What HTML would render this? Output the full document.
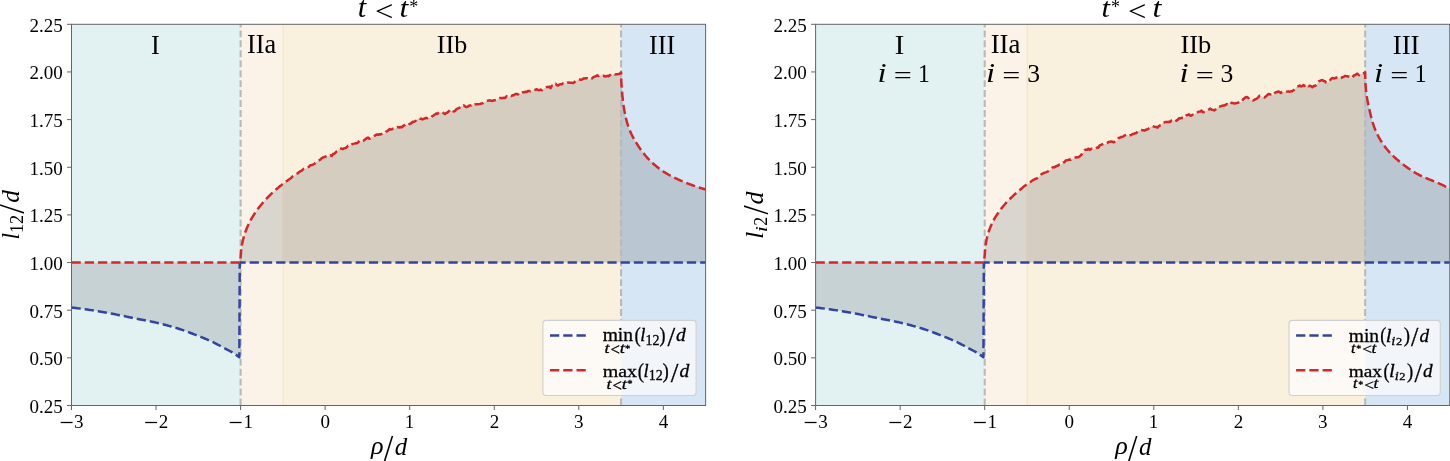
<!DOCTYPE html>
<html><head><meta charset="utf-8"><style>
html,body{margin:0;padding:0;background:#fff;overflow:hidden;}
svg{display:block;}
text{font-family:"Liberation Serif","DejaVu Serif",serif;fill:#000;}
</style></head><body>
<svg width="1450" height="461" viewBox="0 0 1450 461">
<rect x="71.50" y="24.30" width="169.10" height="381.20" fill="#e2f1f2"/>
<rect x="240.60" y="24.30" width="42.28" height="381.20" fill="#fbf3e7"/>
<rect x="282.88" y="24.30" width="338.20" height="381.20" fill="#f9f0dd"/>
<rect x="621.07" y="24.30" width="84.55" height="381.20" fill="#d6e6f4"/>
<defs><path id="fp1" d="M71.50 262.55 L239.75 262.55 L240.75 256.01 L240.89 253.65 L241.04 251.89 L241.18 250.44 L241.33 249.19 L241.47 248.06 L241.62 247.04 L241.77 246.10 L241.91 245.22 L242.06 244.39 L242.20 243.61 L242.35 242.87 L242.50 242.16 L242.64 241.48 L242.79 240.83 L242.93 240.21 L243.08 239.60 L243.22 239.01 L243.37 238.45 L243.52 237.90 L243.66 237.36 L243.81 236.84 L243.95 236.33 L244.10 235.84 L244.24 235.35 L244.39 234.88 L244.54 234.42 L244.68 233.96 L244.83 233.52 L246.09 230.00 L247.34 226.92 L248.60 224.16 L249.86 221.63 L251.12 219.29 L252.38 217.11 L253.64 215.06 L254.89 213.13 L256.15 211.29 L257.41 209.53 L258.67 207.85 L259.93 206.24 L261.19 204.68 L262.44 203.19 L263.70 201.74 L264.96 200.34 L266.22 198.98 L267.48 197.65 L268.74 196.37 L269.99 195.12 L271.25 193.90 L272.51 192.71 L273.77 191.55 L275.03 190.41 L276.29 189.29 L277.54 188.21 L278.80 187.13 L280.06 186.06 L281.32 185.17 L282.58 184.12 L283.84 183.23 L285.09 182.24 L286.35 181.27 L287.61 180.45 L288.87 179.53 L290.13 178.76 L291.39 177.68 L292.64 176.46 L293.90 175.96 L295.16 174.96 L296.42 173.90 L297.68 173.31 L298.94 172.28 L300.20 171.34 L301.45 170.80 L302.71 169.66 L303.97 168.72 L305.23 168.64 L306.49 168.01 L307.75 167.73 L309.00 166.62 L310.26 165.28 L311.52 165.13 L312.78 164.72 L314.04 163.99 L315.30 163.11 L316.55 161.99 L317.81 160.77 L319.07 160.28 L320.33 159.70 L321.59 158.29 L322.85 157.47 L324.10 157.07 L325.36 156.78 L326.62 156.05 L327.88 156.72 L329.14 156.11 L330.40 155.34 L331.65 156.02 L332.91 154.05 L334.17 153.70 L335.43 152.67 L336.69 151.38 L337.95 150.61 L339.20 149.04 L340.46 148.71 L341.72 148.52 L342.98 149.09 L344.24 148.24 L345.50 147.93 L346.75 147.27 L348.01 145.85 L349.27 146.31 L350.53 145.26 L351.79 144.33 L353.05 143.86 L354.30 143.60 L355.56 143.26 L356.82 143.29 L358.08 142.42 L359.34 140.73 L360.60 141.25 L361.85 141.49 L363.11 141.00 L364.37 139.96 L365.63 139.18 L366.89 138.04 L368.15 137.55 L369.40 138.83 L370.66 138.08 L371.92 137.12 L373.18 136.66 L374.44 135.95 L375.70 135.06 L376.95 134.49 L378.21 134.74 L379.47 134.22 L380.73 134.40 L381.99 133.84 L383.25 133.52 L384.50 133.46 L385.76 131.74 L387.02 131.32 L388.28 130.31 L389.54 129.02 L390.80 129.55 L392.05 129.20 L393.31 128.51 L394.57 128.19 L395.83 128.13 L397.09 127.14 L398.35 127.24 L399.60 127.51 L400.86 126.95 L402.12 127.16 L403.38 125.58 L404.64 125.22 L405.90 124.24 L407.16 124.74 L408.41 125.18 L409.67 123.68 L410.93 123.47 L412.19 122.27 L413.45 121.74 L414.71 121.44 L415.96 120.57 L417.22 118.80 L418.48 118.42 L419.74 118.70 L421.00 118.71 L422.26 119.39 L423.51 119.05 L424.77 118.37 L426.03 117.82 L427.29 118.28 L428.55 117.51 L429.81 117.42 L431.06 117.74 L432.32 116.15 L433.58 115.52 L434.84 114.58 L436.10 113.51 L437.36 113.96 L438.61 112.77 L439.87 112.20 L441.13 112.51 L442.39 112.07 L443.65 113.16 L444.91 114.08 L446.16 113.03 L447.42 112.50 L448.68 111.55 L449.94 109.87 L451.20 111.02 L452.46 110.41 L453.71 111.54 L454.97 111.12 L456.23 109.26 L457.49 108.64 L458.75 108.01 L460.01 107.29 L461.26 105.97 L462.52 106.47 L463.78 105.38 L465.04 106.35 L466.30 107.08 L467.56 106.85 L468.81 105.73 L470.07 105.55 L471.33 105.36 L472.59 104.10 L473.85 105.09 L475.11 104.38 L476.36 104.19 L477.62 104.19 L478.88 104.14 L480.14 103.92 L481.40 103.41 L482.66 103.19 L483.91 102.23 L485.17 101.83 L486.43 101.01 L487.69 100.69 L488.95 100.47 L490.21 100.35 L491.46 100.71 L492.72 100.89 L493.98 100.23 L495.24 100.17 L496.50 99.98 L497.76 98.82 L499.01 98.57 L500.27 97.88 L501.53 98.24 L502.79 97.90 L504.05 97.67 L505.31 97.90 L506.56 96.14 L507.82 96.43 L509.08 96.85 L510.34 95.76 L511.60 95.96 L512.86 95.19 L514.12 95.15 L515.37 93.96 L516.63 93.88 L517.89 94.51 L519.15 93.05 L520.41 93.89 L521.67 93.12 L522.92 92.20 L524.18 92.27 L525.44 91.67 L526.70 91.94 L527.96 91.12 L529.22 91.06 L530.47 91.36 L531.73 90.64 L532.99 90.48 L534.25 90.08 L535.51 89.79 L536.77 89.23 L538.02 90.11 L539.28 90.25 L540.54 89.50 L541.80 90.27 L543.06 89.05 L544.32 88.27 L545.57 87.55 L546.83 87.04 L548.09 87.11 L549.35 86.64 L550.61 88.13 L551.87 85.76 L553.12 85.53 L554.38 85.82 L555.64 83.81 L556.90 85.19 L558.16 85.49 L559.42 84.52 L560.67 84.26 L561.93 84.21 L563.19 83.16 L564.45 82.98 L565.71 83.64 L566.97 82.92 L568.22 82.41 L569.48 82.76 L570.74 82.75 L572.00 82.84 L573.26 83.15 L574.52 82.02 L575.77 80.96 L577.03 80.18 L578.29 79.40 L579.55 79.53 L580.81 79.76 L582.07 79.57 L583.32 78.46 L584.58 78.51 L585.84 78.16 L587.10 78.35 L588.36 79.29 L589.62 79.25 L590.87 78.62 L592.13 78.44 L593.39 77.19 L594.65 76.58 L595.91 76.24 L597.17 75.34 L598.42 76.01 L599.68 75.02 L600.94 75.28 L602.20 75.96 L603.46 75.76 L604.72 76.33 L605.97 76.50 L607.23 75.85 L608.49 76.30 L609.75 75.27 L611.01 74.35 L612.27 74.43 L613.52 73.80 L614.78 74.49 L616.04 74.34 L617.30 74.31 L618.56 74.09 L619.82 73.75 L621.07 72.33 L621.08 72.82 L621.08 73.69 L621.09 74.57 L621.11 75.45 L621.13 76.35 L621.15 77.25 L621.18 78.16 L621.21 79.07 L621.25 79.99 L621.29 80.92 L621.33 81.86 L621.38 82.80 L621.44 83.74 L621.49 84.70 L621.56 85.65 L621.62 86.62 L621.69 87.59 L621.77 88.57 L621.85 89.55 L621.93 90.54 L622.02 91.54 L622.11 92.57 L622.20 93.63 L622.30 94.70 L622.41 95.78 L622.52 96.87 L622.63 97.97 L622.75 99.07 L622.87 100.18 L623.00 101.27 L623.13 102.36 L623.26 103.44 L623.40 104.50 L623.54 105.54 L623.69 106.56 L623.84 107.56 L624.00 108.52 L624.16 109.46 L624.32 110.39 L624.49 111.31 L624.66 112.22 L624.84 113.13 L625.02 114.03 L625.21 114.92 L625.40 115.80 L625.59 116.67 L625.79 117.53 L625.99 118.38 L626.20 119.22 L626.41 120.05 L626.63 120.87 L626.85 121.68 L627.07 122.48 L627.30 123.26 L627.53 124.04 L627.77 124.80 L628.01 125.55 L628.26 126.29 L628.51 127.01 L628.76 127.72 L629.02 128.42 L629.28 129.11 L629.55 129.80 L629.82 130.47 L630.10 131.13 L630.38 131.79 L630.66 132.43 L630.95 133.07 L631.24 133.71 L631.54 134.33 L631.84 134.95 L632.14 135.56 L632.45 136.17 L632.77 136.78 L633.08 137.37 L633.41 137.97 L633.73 138.56 L634.06 139.15 L634.40 139.73 L634.74 140.32 L635.08 140.90 L635.43 141.48 L635.78 142.06 L636.14 142.63 L636.50 143.21 L636.87 143.79 L637.24 144.37 L637.61 144.95 L637.99 145.53 L638.37 146.11 L638.76 146.69 L639.15 147.27 L639.54 147.85 L639.94 148.43 L640.34 149.01 L640.75 149.58 L641.16 150.15 L641.58 150.72 L642.00 151.29 L642.43 151.86 L642.85 152.42 L643.29 152.98 L643.73 153.53 L644.17 154.09 L644.61 154.63 L645.06 155.18 L645.52 155.72 L645.98 156.26 L646.44 156.79 L646.91 157.32 L647.38 157.84 L647.86 158.36 L648.34 158.87 L648.82 159.38 L649.31 159.88 L649.80 160.37 L650.30 160.86 L650.80 161.35 L651.31 161.83 L651.82 162.32 L652.33 162.80 L652.85 163.27 L653.38 163.75 L653.90 164.22 L654.44 164.69 L654.97 165.15 L655.51 165.61 L656.06 166.07 L656.60 166.52 L657.16 166.97 L657.71 167.41 L658.28 167.85 L658.84 168.29 L659.41 168.72 L659.99 169.15 L660.56 169.57 L661.15 169.99 L661.73 170.41 L662.33 170.81 L662.92 171.22 L663.52 171.61 L664.13 172.01 L664.73 172.39 L665.35 172.78 L665.96 173.15 L666.59 173.53 L667.21 173.89 L667.84 174.26 L668.48 174.62 L669.11 174.98 L669.76 175.33 L670.40 175.68 L671.05 176.02 L671.71 176.36 L672.37 176.70 L673.03 177.04 L673.70 177.37 L674.37 177.70 L675.05 178.03 L675.73 178.35 L676.42 178.67 L677.11 178.99 L677.80 179.31 L678.50 179.63 L679.20 179.94 L679.91 180.25 L680.62 180.56 L681.33 180.87 L682.05 181.18 L682.78 181.48 L683.51 181.78 L684.24 182.09 L684.97 182.39 L685.72 182.69 L686.46 182.98 L687.21 183.28 L687.96 183.57 L688.72 183.87 L689.48 184.16 L690.25 184.44 L691.02 184.73 L691.80 185.02 L692.58 185.30 L693.36 185.58 L694.15 185.86 L694.94 186.14 L695.74 186.41 L696.54 186.68 L697.34 186.96 L698.15 187.22 L698.96 187.49 L699.78 187.76 L700.60 188.02 L701.43 188.28 L702.26 188.54 L703.09 188.79 L703.93 189.05 L704.78 189.30 L705.62 189.55 L705.62 262.55 L239.75 262.55 L239.33 357.22 L237.92 356.15 L236.51 355.13 L235.10 354.14 L233.69 353.21 L232.28 352.34 L230.87 351.53 L229.46 350.76 L228.05 350.03 L226.64 349.30 L225.23 348.56 L223.82 347.81 L222.41 347.05 L221.00 346.28 L219.59 345.52 L218.18 344.77 L216.77 344.03 L215.36 343.31 L213.95 342.61 L212.54 341.95 L211.12 341.30 L209.71 340.66 L208.30 340.05 L206.89 339.44 L205.48 338.85 L204.07 338.26 L202.66 337.69 L201.25 337.12 L199.84 336.56 L198.43 336.00 L197.02 335.44 L195.61 334.88 L194.20 334.33 L192.79 333.78 L191.38 333.24 L189.97 332.71 L188.56 332.18 L187.15 331.66 L185.74 331.15 L184.33 330.65 L182.92 330.16 L181.51 329.68 L180.10 329.21 L178.69 328.76 L177.28 328.32 L175.87 327.89 L174.46 327.46 L173.05 327.04 L171.63 326.63 L170.22 326.23 L168.81 325.83 L167.40 325.44 L165.99 325.06 L164.58 324.68 L163.17 324.32 L161.76 323.96 L160.35 323.61 L158.94 323.26 L157.53 322.93 L156.12 322.60 L154.71 322.28 L153.30 321.98 L151.89 321.68 L150.48 321.39 L149.07 321.10 L147.66 320.82 L146.25 320.55 L144.84 320.27 L143.43 320.00 L142.02 319.73 L140.61 319.46 L139.20 319.19 L137.79 318.92 L136.38 318.64 L134.97 318.36 L133.56 318.07 L132.15 317.78 L130.73 317.49 L129.32 317.20 L127.91 316.91 L126.50 316.62 L125.09 316.33 L123.68 316.04 L122.27 315.75 L120.86 315.46 L119.45 315.18 L118.04 314.90 L116.63 314.62 L115.22 314.35 L113.81 314.08 L112.40 313.82 L110.99 313.55 L109.58 313.29 L108.17 313.03 L106.76 312.77 L105.35 312.51 L103.94 312.25 L102.53 312.00 L101.12 311.75 L99.71 311.50 L98.30 311.26 L96.89 311.02 L95.48 310.79 L94.07 310.56 L92.66 310.34 L91.24 310.13 L89.83 309.92 L88.42 309.71 L87.01 309.51 L85.60 309.31 L84.19 309.12 L82.78 308.92 L81.37 308.74 L79.96 308.55 L78.55 308.37 L77.14 308.19 L75.73 308.02 L74.32 307.85 L72.91 307.69 L71.50 307.53 Z"/></defs>
<clipPath id="c1_fI"><rect x="71.50" y="0" width="169.70" height="461"/></clipPath>
<use href="#fp1" fill="#c6d2d3" clip-path="url(#c1_fI)"/>
<clipPath id="c1_fIIa"><rect x="240.00" y="0" width="43.48" height="461"/></clipPath>
<use href="#fp1" fill="#d9d5cf" clip-path="url(#c1_fIIa)"/>
<clipPath id="c1_fIIb"><rect x="282.27" y="0" width="339.40" height="461"/></clipPath>
<use href="#fp1" fill="#d5cdc0" clip-path="url(#c1_fIIb)"/>
<clipPath id="c1_fIII"><rect x="620.47" y="0" width="85.15" height="461"/></clipPath>
<use href="#fp1" fill="#bac7d2" clip-path="url(#c1_fIII)"/>
<rect x="282.43" y="24.30" width="1.3" height="381.20" fill="#f0cc9c" fill-opacity="0.3"/>
<line x1="240.60" y1="405.50" x2="240.60" y2="24.30" stroke="#b9b9b9" stroke-width="2.1" stroke-dasharray="6.95 3.0"/>
<line x1="621.07" y1="405.50" x2="621.07" y2="24.30" stroke="#b9b9b9" stroke-width="2.1" stroke-dasharray="6.95 3.0"/>
<path d="M71.50 307.53 L72.91 307.69 L74.32 307.85 L75.73 308.02 L77.14 308.19 L78.55 308.37 L79.96 308.55 L81.37 308.74 L82.78 308.92 L84.19 309.12 L85.60 309.31 L87.01 309.51 L88.42 309.71 L89.83 309.92 L91.24 310.13 L92.66 310.34 L94.07 310.56 L95.48 310.79 L96.89 311.02 L98.30 311.26 L99.71 311.50 L101.12 311.75 L102.53 312.00 L103.94 312.25 L105.35 312.51 L106.76 312.77 L108.17 313.03 L109.58 313.29 L110.99 313.55 L112.40 313.82 L113.81 314.08 L115.22 314.35 L116.63 314.62 L118.04 314.90 L119.45 315.18 L120.86 315.46 L122.27 315.75 L123.68 316.04 L125.09 316.33 L126.50 316.62 L127.91 316.91 L129.32 317.20 L130.73 317.49 L132.15 317.78 L133.56 318.07 L134.97 318.36 L136.38 318.64 L137.79 318.92 L139.20 319.19 L140.61 319.46 L142.02 319.73 L143.43 320.00 L144.84 320.27 L146.25 320.55 L147.66 320.82 L149.07 321.10 L150.48 321.39 L151.89 321.68 L153.30 321.98 L154.71 322.28 L156.12 322.60 L157.53 322.93 L158.94 323.26 L160.35 323.61 L161.76 323.96 L163.17 324.32 L164.58 324.68 L165.99 325.06 L167.40 325.44 L168.81 325.83 L170.22 326.23 L171.63 326.63 L173.05 327.04 L174.46 327.46 L175.87 327.89 L177.28 328.32 L178.69 328.76 L180.10 329.21 L181.51 329.68 L182.92 330.16 L184.33 330.65 L185.74 331.15 L187.15 331.66 L188.56 332.18 L189.97 332.71 L191.38 333.24 L192.79 333.78 L194.20 334.33 L195.61 334.88 L197.02 335.44 L198.43 336.00 L199.84 336.56 L201.25 337.12 L202.66 337.69 L204.07 338.26 L205.48 338.85 L206.89 339.44 L208.30 340.05 L209.71 340.66 L211.12 341.30 L212.54 341.95 L213.95 342.61 L215.36 343.31 L216.77 344.03 L218.18 344.77 L219.59 345.52 L221.00 346.28 L222.41 347.05 L223.82 347.81 L225.23 348.56 L226.64 349.30 L228.05 350.03 L229.46 350.76 L230.87 351.53 L232.28 352.34 L233.69 353.21 L235.10 354.14 L236.51 355.13 L237.92 356.15 L239.33 357.22 L239.75 262.55" fill="none" stroke="#3343a3" stroke-width="2.5" stroke-dasharray="9.25 4" stroke-linejoin="round"/>
<path d="M239.75 262.55 L705.62 262.55" fill="none" stroke="#3343a3" stroke-width="2.5" stroke-dasharray="9.25 4" stroke-dashoffset="3.35"/>
<path d="M71.50 262.55 L239.75 262.55 L240.75 256.01 L240.89 253.65 L241.04 251.89 L241.18 250.44 L241.33 249.19 L241.47 248.06 L241.62 247.04 L241.77 246.10 L241.91 245.22 L242.06 244.39 L242.20 243.61 L242.35 242.87 L242.50 242.16 L242.64 241.48 L242.79 240.83 L242.93 240.21 L243.08 239.60 L243.22 239.01 L243.37 238.45 L243.52 237.90 L243.66 237.36 L243.81 236.84 L243.95 236.33 L244.10 235.84 L244.24 235.35 L244.39 234.88 L244.54 234.42 L244.68 233.96 L244.83 233.52 L246.09 230.00 L247.34 226.92 L248.60 224.16 L249.86 221.63 L251.12 219.29 L252.38 217.11 L253.64 215.06 L254.89 213.13 L256.15 211.29 L257.41 209.53 L258.67 207.85 L259.93 206.24 L261.19 204.68 L262.44 203.19 L263.70 201.74 L264.96 200.34 L266.22 198.98 L267.48 197.65 L268.74 196.37 L269.99 195.12 L271.25 193.90 L272.51 192.71 L273.77 191.55 L275.03 190.41 L276.29 189.29 L277.54 188.21 L278.80 187.13 L280.06 186.06 L281.32 185.17 L282.58 184.12 L283.84 183.23 L285.09 182.24 L286.35 181.27 L287.61 180.45 L288.87 179.53 L290.13 178.76 L291.39 177.68 L292.64 176.46 L293.90 175.96 L295.16 174.96 L296.42 173.90 L297.68 173.31 L298.94 172.28 L300.20 171.34 L301.45 170.80 L302.71 169.66 L303.97 168.72 L305.23 168.64 L306.49 168.01 L307.75 167.73 L309.00 166.62 L310.26 165.28 L311.52 165.13 L312.78 164.72 L314.04 163.99 L315.30 163.11 L316.55 161.99 L317.81 160.77 L319.07 160.28 L320.33 159.70 L321.59 158.29 L322.85 157.47 L324.10 157.07 L325.36 156.78 L326.62 156.05 L327.88 156.72 L329.14 156.11 L330.40 155.34 L331.65 156.02 L332.91 154.05 L334.17 153.70 L335.43 152.67 L336.69 151.38 L337.95 150.61 L339.20 149.04 L340.46 148.71 L341.72 148.52 L342.98 149.09 L344.24 148.24 L345.50 147.93 L346.75 147.27 L348.01 145.85 L349.27 146.31 L350.53 145.26 L351.79 144.33 L353.05 143.86 L354.30 143.60 L355.56 143.26 L356.82 143.29 L358.08 142.42 L359.34 140.73 L360.60 141.25 L361.85 141.49 L363.11 141.00 L364.37 139.96 L365.63 139.18 L366.89 138.04 L368.15 137.55 L369.40 138.83 L370.66 138.08 L371.92 137.12 L373.18 136.66 L374.44 135.95 L375.70 135.06 L376.95 134.49 L378.21 134.74 L379.47 134.22 L380.73 134.40 L381.99 133.84 L383.25 133.52 L384.50 133.46 L385.76 131.74 L387.02 131.32 L388.28 130.31 L389.54 129.02 L390.80 129.55 L392.05 129.20 L393.31 128.51 L394.57 128.19 L395.83 128.13 L397.09 127.14 L398.35 127.24 L399.60 127.51 L400.86 126.95 L402.12 127.16 L403.38 125.58 L404.64 125.22 L405.90 124.24 L407.16 124.74 L408.41 125.18 L409.67 123.68 L410.93 123.47 L412.19 122.27 L413.45 121.74 L414.71 121.44 L415.96 120.57 L417.22 118.80 L418.48 118.42 L419.74 118.70 L421.00 118.71 L422.26 119.39 L423.51 119.05 L424.77 118.37 L426.03 117.82 L427.29 118.28 L428.55 117.51 L429.81 117.42 L431.06 117.74 L432.32 116.15 L433.58 115.52 L434.84 114.58 L436.10 113.51 L437.36 113.96 L438.61 112.77 L439.87 112.20 L441.13 112.51 L442.39 112.07 L443.65 113.16 L444.91 114.08 L446.16 113.03 L447.42 112.50 L448.68 111.55 L449.94 109.87 L451.20 111.02 L452.46 110.41 L453.71 111.54 L454.97 111.12 L456.23 109.26 L457.49 108.64 L458.75 108.01 L460.01 107.29 L461.26 105.97 L462.52 106.47 L463.78 105.38 L465.04 106.35 L466.30 107.08 L467.56 106.85 L468.81 105.73 L470.07 105.55 L471.33 105.36 L472.59 104.10 L473.85 105.09 L475.11 104.38 L476.36 104.19 L477.62 104.19 L478.88 104.14 L480.14 103.92 L481.40 103.41 L482.66 103.19 L483.91 102.23 L485.17 101.83 L486.43 101.01 L487.69 100.69 L488.95 100.47 L490.21 100.35 L491.46 100.71 L492.72 100.89 L493.98 100.23 L495.24 100.17 L496.50 99.98 L497.76 98.82 L499.01 98.57 L500.27 97.88 L501.53 98.24 L502.79 97.90 L504.05 97.67 L505.31 97.90 L506.56 96.14 L507.82 96.43 L509.08 96.85 L510.34 95.76 L511.60 95.96 L512.86 95.19 L514.12 95.15 L515.37 93.96 L516.63 93.88 L517.89 94.51 L519.15 93.05 L520.41 93.89 L521.67 93.12 L522.92 92.20 L524.18 92.27 L525.44 91.67 L526.70 91.94 L527.96 91.12 L529.22 91.06 L530.47 91.36 L531.73 90.64 L532.99 90.48 L534.25 90.08 L535.51 89.79 L536.77 89.23 L538.02 90.11 L539.28 90.25 L540.54 89.50 L541.80 90.27 L543.06 89.05 L544.32 88.27 L545.57 87.55 L546.83 87.04 L548.09 87.11 L549.35 86.64 L550.61 88.13 L551.87 85.76 L553.12 85.53 L554.38 85.82 L555.64 83.81 L556.90 85.19 L558.16 85.49 L559.42 84.52 L560.67 84.26 L561.93 84.21 L563.19 83.16 L564.45 82.98 L565.71 83.64 L566.97 82.92 L568.22 82.41 L569.48 82.76 L570.74 82.75 L572.00 82.84 L573.26 83.15 L574.52 82.02 L575.77 80.96 L577.03 80.18 L578.29 79.40 L579.55 79.53 L580.81 79.76 L582.07 79.57 L583.32 78.46 L584.58 78.51 L585.84 78.16 L587.10 78.35 L588.36 79.29 L589.62 79.25 L590.87 78.62 L592.13 78.44 L593.39 77.19 L594.65 76.58 L595.91 76.24 L597.17 75.34 L598.42 76.01 L599.68 75.02 L600.94 75.28 L602.20 75.96 L603.46 75.76 L604.72 76.33 L605.97 76.50 L607.23 75.85 L608.49 76.30 L609.75 75.27 L611.01 74.35 L612.27 74.43 L613.52 73.80 L614.78 74.49 L616.04 74.34 L617.30 74.31 L618.56 74.09 L619.82 73.75 L621.07 72.33 L621.08 72.82 L621.08 73.69 L621.09 74.57 L621.11 75.45 L621.13 76.35 L621.15 77.25 L621.18 78.16 L621.21 79.07 L621.25 79.99 L621.29 80.92 L621.33 81.86 L621.38 82.80 L621.44 83.74 L621.49 84.70 L621.56 85.65 L621.62 86.62 L621.69 87.59 L621.77 88.57 L621.85 89.55 L621.93 90.54 L622.02 91.54 L622.11 92.57 L622.20 93.63 L622.30 94.70 L622.41 95.78 L622.52 96.87 L622.63 97.97 L622.75 99.07 L622.87 100.18 L623.00 101.27 L623.13 102.36 L623.26 103.44 L623.40 104.50 L623.54 105.54 L623.69 106.56 L623.84 107.56 L624.00 108.52 L624.16 109.46 L624.32 110.39 L624.49 111.31 L624.66 112.22 L624.84 113.13 L625.02 114.03 L625.21 114.92 L625.40 115.80 L625.59 116.67 L625.79 117.53 L625.99 118.38 L626.20 119.22 L626.41 120.05 L626.63 120.87 L626.85 121.68 L627.07 122.48 L627.30 123.26 L627.53 124.04 L627.77 124.80 L628.01 125.55 L628.26 126.29 L628.51 127.01 L628.76 127.72 L629.02 128.42 L629.28 129.11 L629.55 129.80 L629.82 130.47 L630.10 131.13 L630.38 131.79 L630.66 132.43 L630.95 133.07 L631.24 133.71 L631.54 134.33 L631.84 134.95 L632.14 135.56 L632.45 136.17 L632.77 136.78 L633.08 137.37 L633.41 137.97 L633.73 138.56 L634.06 139.15 L634.40 139.73 L634.74 140.32 L635.08 140.90 L635.43 141.48 L635.78 142.06 L636.14 142.63 L636.50 143.21 L636.87 143.79 L637.24 144.37 L637.61 144.95 L637.99 145.53 L638.37 146.11 L638.76 146.69 L639.15 147.27 L639.54 147.85 L639.94 148.43 L640.34 149.01 L640.75 149.58 L641.16 150.15 L641.58 150.72 L642.00 151.29 L642.43 151.86 L642.85 152.42 L643.29 152.98 L643.73 153.53 L644.17 154.09 L644.61 154.63 L645.06 155.18 L645.52 155.72 L645.98 156.26 L646.44 156.79 L646.91 157.32 L647.38 157.84 L647.86 158.36 L648.34 158.87 L648.82 159.38 L649.31 159.88 L649.80 160.37 L650.30 160.86 L650.80 161.35 L651.31 161.83 L651.82 162.32 L652.33 162.80 L652.85 163.27 L653.38 163.75 L653.90 164.22 L654.44 164.69 L654.97 165.15 L655.51 165.61 L656.06 166.07 L656.60 166.52 L657.16 166.97 L657.71 167.41 L658.28 167.85 L658.84 168.29 L659.41 168.72 L659.99 169.15 L660.56 169.57 L661.15 169.99 L661.73 170.41 L662.33 170.81 L662.92 171.22 L663.52 171.61 L664.13 172.01 L664.73 172.39 L665.35 172.78 L665.96 173.15 L666.59 173.53 L667.21 173.89 L667.84 174.26 L668.48 174.62 L669.11 174.98 L669.76 175.33 L670.40 175.68 L671.05 176.02 L671.71 176.36 L672.37 176.70 L673.03 177.04 L673.70 177.37 L674.37 177.70 L675.05 178.03 L675.73 178.35 L676.42 178.67 L677.11 178.99 L677.80 179.31 L678.50 179.63 L679.20 179.94 L679.91 180.25 L680.62 180.56 L681.33 180.87 L682.05 181.18 L682.78 181.48 L683.51 181.78 L684.24 182.09 L684.97 182.39 L685.72 182.69 L686.46 182.98 L687.21 183.28 L687.96 183.57 L688.72 183.87 L689.48 184.16 L690.25 184.44 L691.02 184.73 L691.80 185.02 L692.58 185.30 L693.36 185.58 L694.15 185.86 L694.94 186.14 L695.74 186.41 L696.54 186.68 L697.34 186.96 L698.15 187.22 L698.96 187.49 L699.78 187.76 L700.60 188.02 L701.43 188.28 L702.26 188.54 L703.09 188.79 L703.93 189.05 L704.78 189.30 L705.62 189.55" fill="none" stroke="#d62728" stroke-width="2.5" stroke-dasharray="9.25 4" stroke-linejoin="round"/>
<rect x="71.50" y="24.30" width="634.12" height="381.20" fill="none" stroke="#646464" stroke-width="1"/>
<line x1="67.00" y1="405.50" x2="71.50" y2="405.50" stroke="#646464" stroke-width="1"/>
<line x1="67.00" y1="357.85" x2="71.50" y2="357.85" stroke="#646464" stroke-width="1"/>
<line x1="67.00" y1="310.20" x2="71.50" y2="310.20" stroke="#646464" stroke-width="1"/>
<line x1="67.00" y1="262.55" x2="71.50" y2="262.55" stroke="#646464" stroke-width="1"/>
<line x1="67.00" y1="214.90" x2="71.50" y2="214.90" stroke="#646464" stroke-width="1"/>
<line x1="67.00" y1="167.25" x2="71.50" y2="167.25" stroke="#646464" stroke-width="1"/>
<line x1="67.00" y1="119.60" x2="71.50" y2="119.60" stroke="#646464" stroke-width="1"/>
<line x1="67.00" y1="71.95" x2="71.50" y2="71.95" stroke="#646464" stroke-width="1"/>
<line x1="67.00" y1="24.30" x2="71.50" y2="24.30" stroke="#646464" stroke-width="1"/>
<line x1="71.50" y1="405.50" x2="71.50" y2="410.00" stroke="#646464" stroke-width="1"/>
<line x1="156.05" y1="405.50" x2="156.05" y2="410.00" stroke="#646464" stroke-width="1"/>
<line x1="240.60" y1="405.50" x2="240.60" y2="410.00" stroke="#646464" stroke-width="1"/>
<line x1="325.15" y1="405.50" x2="325.15" y2="410.00" stroke="#646464" stroke-width="1"/>
<line x1="409.70" y1="405.50" x2="409.70" y2="410.00" stroke="#646464" stroke-width="1"/>
<line x1="494.25" y1="405.50" x2="494.25" y2="410.00" stroke="#646464" stroke-width="1"/>
<line x1="578.80" y1="405.50" x2="578.80" y2="410.00" stroke="#646464" stroke-width="1"/>
<line x1="663.35" y1="405.50" x2="663.35" y2="410.00" stroke="#646464" stroke-width="1"/>
<rect x="815.60" y="24.30" width="169.10" height="381.20" fill="#e2f1f2"/>
<rect x="984.70" y="24.30" width="42.27" height="381.20" fill="#fbf3e7"/>
<rect x="1026.97" y="24.30" width="338.20" height="381.20" fill="#f9f0dd"/>
<rect x="1365.17" y="24.30" width="84.55" height="381.20" fill="#d6e6f4"/>
<defs><path id="fp2" d="M815.60 262.55 L983.85 262.55 L984.85 254.09 L984.99 251.46 L985.14 249.56 L985.28 248.01 L985.43 246.69 L985.57 245.52 L985.72 244.46 L985.87 243.49 L986.01 242.59 L986.16 241.75 L986.30 240.96 L986.45 240.22 L986.60 239.51 L986.74 238.83 L986.89 238.18 L987.03 237.56 L987.18 236.96 L987.32 236.38 L987.47 235.82 L987.62 235.28 L987.76 234.75 L987.91 234.24 L988.05 233.74 L988.20 233.26 L988.34 232.79 L988.49 232.33 L988.64 231.88 L988.78 231.44 L988.93 231.01 L990.19 227.61 L991.44 224.67 L992.70 222.04 L993.96 219.65 L995.22 217.45 L996.48 215.40 L997.74 213.48 L998.99 211.67 L1000.25 209.95 L1001.51 208.31 L1002.77 206.75 L1004.03 205.25 L1005.29 203.80 L1006.54 202.41 L1007.80 201.07 L1009.06 199.77 L1010.32 198.50 L1011.58 197.28 L1012.84 196.09 L1014.09 194.93 L1015.35 193.80 L1016.61 192.69 L1017.87 191.62 L1019.13 190.56 L1020.39 189.53 L1021.64 188.44 L1022.90 187.32 L1024.16 186.35 L1025.42 185.37 L1026.68 184.54 L1027.94 183.77 L1029.19 182.92 L1030.45 182.03 L1031.71 181.07 L1032.97 180.21 L1034.23 179.50 L1035.49 178.92 L1036.74 178.56 L1038.00 177.70 L1039.26 176.70 L1040.52 175.26 L1041.78 173.90 L1043.04 173.58 L1044.30 172.71 L1045.55 172.39 L1046.81 172.02 L1048.07 171.35 L1049.33 170.24 L1050.59 169.39 L1051.85 168.11 L1053.10 167.17 L1054.36 167.36 L1055.62 166.47 L1056.88 166.00 L1058.14 165.53 L1059.40 164.64 L1060.65 164.77 L1061.91 164.01 L1063.17 162.52 L1064.43 162.21 L1065.69 160.45 L1066.95 160.22 L1068.20 160.09 L1069.46 159.47 L1070.72 159.73 L1071.98 158.75 L1073.24 158.46 L1074.50 157.79 L1075.75 157.44 L1077.01 157.31 L1078.27 157.33 L1079.53 156.52 L1080.79 155.39 L1082.05 153.91 L1083.30 152.19 L1084.56 150.20 L1085.82 149.69 L1087.08 149.86 L1088.34 148.67 L1089.60 149.96 L1090.85 149.08 L1092.11 148.81 L1093.37 149.07 L1094.63 149.03 L1095.89 148.54 L1097.15 147.60 L1098.40 147.77 L1099.66 145.35 L1100.92 144.91 L1102.18 144.29 L1103.44 143.67 L1104.70 144.07 L1105.95 144.06 L1107.21 143.21 L1108.47 141.91 L1109.73 141.74 L1110.99 141.46 L1112.25 141.63 L1113.50 142.28 L1114.76 141.76 L1116.02 141.04 L1117.28 139.93 L1118.54 138.06 L1119.80 137.70 L1121.05 136.90 L1122.31 137.03 L1123.57 136.17 L1124.83 135.32 L1126.09 134.89 L1127.35 134.69 L1128.60 135.75 L1129.86 135.17 L1131.12 135.19 L1132.38 134.07 L1133.64 134.02 L1134.90 133.33 L1136.15 133.17 L1137.41 132.01 L1138.67 130.91 L1139.93 130.25 L1141.19 130.08 L1142.45 130.33 L1143.70 130.22 L1144.96 130.62 L1146.22 129.45 L1147.48 129.43 L1148.74 128.40 L1150.00 127.34 L1151.26 126.59 L1152.51 126.06 L1153.77 126.50 L1155.03 126.90 L1156.29 126.94 L1157.55 127.60 L1158.81 126.09 L1160.06 125.39 L1161.32 125.02 L1162.58 123.01 L1163.84 122.65 L1165.10 122.01 L1166.36 122.01 L1167.61 121.95 L1168.87 121.73 L1170.13 121.92 L1171.39 120.46 L1172.65 119.97 L1173.91 120.80 L1175.16 119.88 L1176.42 120.71 L1177.68 120.00 L1178.94 118.16 L1180.20 118.43 L1181.46 117.85 L1182.71 118.02 L1183.97 118.19 L1185.23 116.44 L1186.49 115.21 L1187.75 115.04 L1189.01 114.25 L1190.26 115.74 L1191.52 115.60 L1192.78 114.63 L1194.04 114.67 L1195.30 113.61 L1196.56 113.11 L1197.81 112.18 L1199.07 111.62 L1200.33 111.48 L1201.59 110.66 L1202.85 112.31 L1204.11 111.80 L1205.36 111.17 L1206.62 111.08 L1207.88 110.19 L1209.14 109.41 L1210.40 108.60 L1211.66 109.65 L1212.91 109.89 L1214.17 110.40 L1215.43 109.54 L1216.69 108.22 L1217.95 106.81 L1219.21 106.42 L1220.46 106.38 L1221.72 105.90 L1222.98 105.45 L1224.24 105.51 L1225.50 104.94 L1226.76 104.08 L1228.01 104.58 L1229.27 102.52 L1230.53 102.43 L1231.79 103.07 L1233.05 103.06 L1234.31 103.59 L1235.56 103.35 L1236.82 103.07 L1238.08 102.69 L1239.34 102.12 L1240.60 102.39 L1241.86 102.00 L1243.11 99.25 L1244.37 98.40 L1245.63 97.27 L1246.89 96.94 L1248.15 97.77 L1249.41 99.76 L1250.66 99.89 L1251.92 99.73 L1253.18 100.43 L1254.44 99.75 L1255.70 99.21 L1256.96 98.45 L1258.22 97.38 L1259.47 95.80 L1260.73 96.21 L1261.99 96.59 L1263.25 97.29 L1264.51 97.60 L1265.77 96.45 L1267.02 95.57 L1268.28 94.00 L1269.54 94.14 L1270.80 94.48 L1272.06 94.49 L1273.32 95.18 L1274.57 93.28 L1275.83 92.29 L1277.09 91.98 L1278.35 91.43 L1279.61 92.13 L1280.87 93.04 L1282.12 92.11 L1283.38 92.09 L1284.64 91.96 L1285.90 91.44 L1287.16 91.62 L1288.42 91.35 L1289.67 91.68 L1290.93 91.36 L1292.19 91.17 L1293.45 90.33 L1294.71 89.18 L1295.97 87.58 L1297.22 86.51 L1298.48 86.20 L1299.74 85.56 L1301.00 86.44 L1302.26 85.81 L1303.52 85.11 L1304.77 85.91 L1306.03 84.87 L1307.29 84.91 L1308.55 86.32 L1309.81 85.72 L1311.07 86.08 L1312.32 87.24 L1313.58 86.10 L1314.84 85.93 L1316.10 85.13 L1317.36 83.68 L1318.62 81.47 L1319.87 80.90 L1321.13 80.28 L1322.39 80.12 L1323.65 81.07 L1324.91 81.20 L1326.17 82.52 L1327.42 82.69 L1328.68 82.16 L1329.94 80.45 L1331.20 78.85 L1332.46 77.92 L1333.72 78.48 L1334.97 78.23 L1336.23 77.57 L1337.49 77.84 L1338.75 77.15 L1340.01 78.21 L1341.27 77.87 L1342.52 77.11 L1343.78 76.87 L1345.04 75.87 L1346.30 76.14 L1347.56 76.30 L1348.82 76.63 L1350.07 77.25 L1351.33 78.13 L1352.59 77.40 L1353.85 75.32 L1355.11 75.28 L1356.37 74.03 L1357.62 73.79 L1358.88 75.21 L1360.14 73.95 L1361.40 74.33 L1362.66 73.66 L1363.92 73.19 L1365.17 72.33 L1365.18 73.33 L1365.18 74.32 L1365.19 75.30 L1365.21 76.28 L1365.23 77.25 L1365.25 78.21 L1365.28 79.17 L1365.31 80.12 L1365.35 81.05 L1365.39 81.99 L1365.43 82.91 L1365.48 83.82 L1365.54 84.73 L1365.59 85.63 L1365.66 86.52 L1365.72 87.39 L1365.79 88.26 L1365.87 89.12 L1365.95 89.97 L1366.03 90.80 L1366.12 91.62 L1366.21 92.43 L1366.30 93.23 L1366.40 94.02 L1366.51 94.79 L1366.62 95.56 L1366.73 96.32 L1366.85 97.07 L1366.97 97.82 L1367.10 98.57 L1367.23 99.31 L1367.36 100.05 L1367.50 100.79 L1367.64 101.54 L1367.79 102.28 L1367.94 103.02 L1368.10 103.77 L1368.26 104.53 L1368.42 105.29 L1368.59 106.06 L1368.76 106.84 L1368.94 107.62 L1369.12 108.42 L1369.31 109.23 L1369.50 110.06 L1369.69 110.89 L1369.89 111.74 L1370.09 112.59 L1370.30 113.46 L1370.51 114.32 L1370.73 115.20 L1370.95 116.07 L1371.17 116.95 L1371.40 117.82 L1371.63 118.70 L1371.87 119.57 L1372.11 120.44 L1372.36 121.30 L1372.61 122.16 L1372.86 123.00 L1373.12 123.84 L1373.38 124.66 L1373.65 125.47 L1373.92 126.27 L1374.20 127.05 L1374.48 127.81 L1374.76 128.55 L1375.05 129.27 L1375.34 129.98 L1375.64 130.68 L1375.94 131.37 L1376.24 132.05 L1376.55 132.73 L1376.87 133.40 L1377.18 134.06 L1377.51 134.71 L1377.83 135.36 L1378.16 136.00 L1378.50 136.64 L1378.84 137.27 L1379.18 137.89 L1379.53 138.51 L1379.88 139.12 L1380.24 139.72 L1380.60 140.32 L1380.97 140.92 L1381.34 141.50 L1381.71 142.09 L1382.09 142.67 L1382.47 143.24 L1382.86 143.81 L1383.25 144.37 L1383.64 144.93 L1384.04 145.49 L1384.44 146.04 L1384.85 146.59 L1385.26 147.13 L1385.68 147.67 L1386.10 148.21 L1386.53 148.74 L1386.95 149.27 L1387.39 149.79 L1387.83 150.31 L1388.27 150.82 L1388.71 151.32 L1389.16 151.83 L1389.62 152.33 L1390.08 152.82 L1390.54 153.31 L1391.01 153.80 L1391.48 154.29 L1391.96 154.77 L1392.44 155.24 L1392.92 155.72 L1393.41 156.19 L1393.90 156.66 L1394.40 157.12 L1394.90 157.59 L1395.41 158.05 L1395.92 158.51 L1396.43 158.96 L1396.95 159.42 L1397.48 159.87 L1398.00 160.32 L1398.54 160.77 L1399.07 161.22 L1399.61 161.66 L1400.16 162.11 L1400.70 162.55 L1401.26 163.00 L1401.81 163.44 L1402.38 163.88 L1402.94 164.32 L1403.51 164.76 L1404.09 165.20 L1404.66 165.64 L1405.25 166.07 L1405.83 166.51 L1406.43 166.94 L1407.02 167.37 L1407.62 167.80 L1408.23 168.22 L1408.83 168.65 L1409.45 169.07 L1410.06 169.48 L1410.69 169.90 L1411.31 170.31 L1411.94 170.72 L1412.58 171.12 L1413.21 171.52 L1413.86 171.92 L1414.50 172.31 L1415.15 172.70 L1415.81 173.08 L1416.47 173.46 L1417.13 173.84 L1417.80 174.21 L1418.47 174.58 L1419.15 174.94 L1419.83 175.29 L1420.52 175.63 L1421.21 175.97 L1421.90 176.30 L1422.60 176.62 L1423.30 176.94 L1424.01 177.25 L1424.72 177.56 L1425.43 177.86 L1426.15 178.16 L1426.88 178.46 L1427.61 178.76 L1428.34 179.05 L1429.07 179.35 L1429.82 179.64 L1430.56 179.94 L1431.31 180.23 L1432.06 180.53 L1432.82 180.83 L1433.58 181.14 L1434.35 181.45 L1435.12 181.76 L1435.90 182.08 L1436.68 182.41 L1437.46 182.74 L1438.25 183.09 L1439.04 183.43 L1439.84 183.79 L1440.64 184.16 L1441.44 184.54 L1442.25 184.93 L1443.06 185.33 L1443.88 185.74 L1444.70 186.16 L1445.53 186.59 L1446.36 187.02 L1447.19 187.45 L1448.03 187.90 L1448.88 188.34 L1449.72 188.79 L1449.72 262.55 L983.85 262.55 L983.43 357.22 L982.02 356.15 L980.61 355.13 L979.20 354.14 L977.79 353.21 L976.38 352.34 L974.97 351.53 L973.56 350.76 L972.15 350.03 L970.74 349.30 L969.33 348.56 L967.92 347.81 L966.51 347.05 L965.10 346.28 L963.69 345.52 L962.28 344.77 L960.87 344.03 L959.46 343.31 L958.05 342.61 L956.64 341.95 L955.22 341.30 L953.81 340.66 L952.40 340.05 L950.99 339.44 L949.58 338.85 L948.17 338.26 L946.76 337.69 L945.35 337.12 L943.94 336.56 L942.53 336.00 L941.12 335.44 L939.71 334.88 L938.30 334.33 L936.89 333.78 L935.48 333.24 L934.07 332.71 L932.66 332.18 L931.25 331.66 L929.84 331.15 L928.43 330.65 L927.02 330.16 L925.61 329.68 L924.20 329.21 L922.79 328.76 L921.38 328.32 L919.97 327.89 L918.56 327.46 L917.15 327.04 L915.73 326.63 L914.32 326.23 L912.91 325.83 L911.50 325.44 L910.09 325.06 L908.68 324.68 L907.27 324.32 L905.86 323.96 L904.45 323.61 L903.04 323.26 L901.63 322.93 L900.22 322.60 L898.81 322.28 L897.40 321.98 L895.99 321.68 L894.58 321.39 L893.17 321.10 L891.76 320.82 L890.35 320.55 L888.94 320.27 L887.53 320.00 L886.12 319.73 L884.71 319.46 L883.30 319.19 L881.89 318.92 L880.48 318.64 L879.07 318.36 L877.66 318.07 L876.25 317.78 L874.83 317.49 L873.42 317.20 L872.01 316.91 L870.60 316.62 L869.19 316.33 L867.78 316.04 L866.37 315.75 L864.96 315.46 L863.55 315.18 L862.14 314.90 L860.73 314.62 L859.32 314.35 L857.91 314.08 L856.50 313.82 L855.09 313.55 L853.68 313.29 L852.27 313.03 L850.86 312.77 L849.45 312.51 L848.04 312.25 L846.63 312.00 L845.22 311.75 L843.81 311.50 L842.40 311.26 L840.99 311.02 L839.58 310.79 L838.17 310.56 L836.76 310.34 L835.34 310.13 L833.93 309.92 L832.52 309.71 L831.11 309.51 L829.70 309.31 L828.29 309.12 L826.88 308.92 L825.47 308.74 L824.06 308.55 L822.65 308.37 L821.24 308.19 L819.83 308.02 L818.42 307.85 L817.01 307.69 L815.60 307.53 Z"/></defs>
<clipPath id="c2_fI"><rect x="815.60" y="0" width="169.70" height="461"/></clipPath>
<use href="#fp2" fill="#c6d2d3" clip-path="url(#c2_fI)"/>
<clipPath id="c2_fIIa"><rect x="984.10" y="0" width="43.47" height="461"/></clipPath>
<use href="#fp2" fill="#d9d5cf" clip-path="url(#c2_fIIa)"/>
<clipPath id="c2_fIIb"><rect x="1026.38" y="0" width="339.40" height="461"/></clipPath>
<use href="#fp2" fill="#d5cdc0" clip-path="url(#c2_fIIb)"/>
<clipPath id="c2_fIII"><rect x="1364.58" y="0" width="85.15" height="461"/></clipPath>
<use href="#fp2" fill="#bac7d2" clip-path="url(#c2_fIII)"/>
<rect x="1026.52" y="24.30" width="1.3" height="381.20" fill="#f0cc9c" fill-opacity="0.3"/>
<line x1="984.70" y1="405.50" x2="984.70" y2="24.30" stroke="#b9b9b9" stroke-width="2.1" stroke-dasharray="6.95 3.0"/>
<line x1="1365.17" y1="405.50" x2="1365.17" y2="24.30" stroke="#b9b9b9" stroke-width="2.1" stroke-dasharray="6.95 3.0"/>
<path d="M815.60 307.53 L817.01 307.69 L818.42 307.85 L819.83 308.02 L821.24 308.19 L822.65 308.37 L824.06 308.55 L825.47 308.74 L826.88 308.92 L828.29 309.12 L829.70 309.31 L831.11 309.51 L832.52 309.71 L833.93 309.92 L835.34 310.13 L836.76 310.34 L838.17 310.56 L839.58 310.79 L840.99 311.02 L842.40 311.26 L843.81 311.50 L845.22 311.75 L846.63 312.00 L848.04 312.25 L849.45 312.51 L850.86 312.77 L852.27 313.03 L853.68 313.29 L855.09 313.55 L856.50 313.82 L857.91 314.08 L859.32 314.35 L860.73 314.62 L862.14 314.90 L863.55 315.18 L864.96 315.46 L866.37 315.75 L867.78 316.04 L869.19 316.33 L870.60 316.62 L872.01 316.91 L873.42 317.20 L874.83 317.49 L876.25 317.78 L877.66 318.07 L879.07 318.36 L880.48 318.64 L881.89 318.92 L883.30 319.19 L884.71 319.46 L886.12 319.73 L887.53 320.00 L888.94 320.27 L890.35 320.55 L891.76 320.82 L893.17 321.10 L894.58 321.39 L895.99 321.68 L897.40 321.98 L898.81 322.28 L900.22 322.60 L901.63 322.93 L903.04 323.26 L904.45 323.61 L905.86 323.96 L907.27 324.32 L908.68 324.68 L910.09 325.06 L911.50 325.44 L912.91 325.83 L914.32 326.23 L915.73 326.63 L917.15 327.04 L918.56 327.46 L919.97 327.89 L921.38 328.32 L922.79 328.76 L924.20 329.21 L925.61 329.68 L927.02 330.16 L928.43 330.65 L929.84 331.15 L931.25 331.66 L932.66 332.18 L934.07 332.71 L935.48 333.24 L936.89 333.78 L938.30 334.33 L939.71 334.88 L941.12 335.44 L942.53 336.00 L943.94 336.56 L945.35 337.12 L946.76 337.69 L948.17 338.26 L949.58 338.85 L950.99 339.44 L952.40 340.05 L953.81 340.66 L955.22 341.30 L956.64 341.95 L958.05 342.61 L959.46 343.31 L960.87 344.03 L962.28 344.77 L963.69 345.52 L965.10 346.28 L966.51 347.05 L967.92 347.81 L969.33 348.56 L970.74 349.30 L972.15 350.03 L973.56 350.76 L974.97 351.53 L976.38 352.34 L977.79 353.21 L979.20 354.14 L980.61 355.13 L982.02 356.15 L983.43 357.22 L983.85 262.55" fill="none" stroke="#3343a3" stroke-width="2.5" stroke-dasharray="9.25 4" stroke-linejoin="round"/>
<path d="M983.85 262.55 L1449.72 262.55" fill="none" stroke="#3343a3" stroke-width="2.5" stroke-dasharray="9.25 4" stroke-dashoffset="3.35"/>
<path d="M815.60 262.55 L983.85 262.55 L984.85 254.09 L984.99 251.46 L985.14 249.56 L985.28 248.01 L985.43 246.69 L985.57 245.52 L985.72 244.46 L985.87 243.49 L986.01 242.59 L986.16 241.75 L986.30 240.96 L986.45 240.22 L986.60 239.51 L986.74 238.83 L986.89 238.18 L987.03 237.56 L987.18 236.96 L987.32 236.38 L987.47 235.82 L987.62 235.28 L987.76 234.75 L987.91 234.24 L988.05 233.74 L988.20 233.26 L988.34 232.79 L988.49 232.33 L988.64 231.88 L988.78 231.44 L988.93 231.01 L990.19 227.61 L991.44 224.67 L992.70 222.04 L993.96 219.65 L995.22 217.45 L996.48 215.40 L997.74 213.48 L998.99 211.67 L1000.25 209.95 L1001.51 208.31 L1002.77 206.75 L1004.03 205.25 L1005.29 203.80 L1006.54 202.41 L1007.80 201.07 L1009.06 199.77 L1010.32 198.50 L1011.58 197.28 L1012.84 196.09 L1014.09 194.93 L1015.35 193.80 L1016.61 192.69 L1017.87 191.62 L1019.13 190.56 L1020.39 189.53 L1021.64 188.44 L1022.90 187.32 L1024.16 186.35 L1025.42 185.37 L1026.68 184.54 L1027.94 183.77 L1029.19 182.92 L1030.45 182.03 L1031.71 181.07 L1032.97 180.21 L1034.23 179.50 L1035.49 178.92 L1036.74 178.56 L1038.00 177.70 L1039.26 176.70 L1040.52 175.26 L1041.78 173.90 L1043.04 173.58 L1044.30 172.71 L1045.55 172.39 L1046.81 172.02 L1048.07 171.35 L1049.33 170.24 L1050.59 169.39 L1051.85 168.11 L1053.10 167.17 L1054.36 167.36 L1055.62 166.47 L1056.88 166.00 L1058.14 165.53 L1059.40 164.64 L1060.65 164.77 L1061.91 164.01 L1063.17 162.52 L1064.43 162.21 L1065.69 160.45 L1066.95 160.22 L1068.20 160.09 L1069.46 159.47 L1070.72 159.73 L1071.98 158.75 L1073.24 158.46 L1074.50 157.79 L1075.75 157.44 L1077.01 157.31 L1078.27 157.33 L1079.53 156.52 L1080.79 155.39 L1082.05 153.91 L1083.30 152.19 L1084.56 150.20 L1085.82 149.69 L1087.08 149.86 L1088.34 148.67 L1089.60 149.96 L1090.85 149.08 L1092.11 148.81 L1093.37 149.07 L1094.63 149.03 L1095.89 148.54 L1097.15 147.60 L1098.40 147.77 L1099.66 145.35 L1100.92 144.91 L1102.18 144.29 L1103.44 143.67 L1104.70 144.07 L1105.95 144.06 L1107.21 143.21 L1108.47 141.91 L1109.73 141.74 L1110.99 141.46 L1112.25 141.63 L1113.50 142.28 L1114.76 141.76 L1116.02 141.04 L1117.28 139.93 L1118.54 138.06 L1119.80 137.70 L1121.05 136.90 L1122.31 137.03 L1123.57 136.17 L1124.83 135.32 L1126.09 134.89 L1127.35 134.69 L1128.60 135.75 L1129.86 135.17 L1131.12 135.19 L1132.38 134.07 L1133.64 134.02 L1134.90 133.33 L1136.15 133.17 L1137.41 132.01 L1138.67 130.91 L1139.93 130.25 L1141.19 130.08 L1142.45 130.33 L1143.70 130.22 L1144.96 130.62 L1146.22 129.45 L1147.48 129.43 L1148.74 128.40 L1150.00 127.34 L1151.26 126.59 L1152.51 126.06 L1153.77 126.50 L1155.03 126.90 L1156.29 126.94 L1157.55 127.60 L1158.81 126.09 L1160.06 125.39 L1161.32 125.02 L1162.58 123.01 L1163.84 122.65 L1165.10 122.01 L1166.36 122.01 L1167.61 121.95 L1168.87 121.73 L1170.13 121.92 L1171.39 120.46 L1172.65 119.97 L1173.91 120.80 L1175.16 119.88 L1176.42 120.71 L1177.68 120.00 L1178.94 118.16 L1180.20 118.43 L1181.46 117.85 L1182.71 118.02 L1183.97 118.19 L1185.23 116.44 L1186.49 115.21 L1187.75 115.04 L1189.01 114.25 L1190.26 115.74 L1191.52 115.60 L1192.78 114.63 L1194.04 114.67 L1195.30 113.61 L1196.56 113.11 L1197.81 112.18 L1199.07 111.62 L1200.33 111.48 L1201.59 110.66 L1202.85 112.31 L1204.11 111.80 L1205.36 111.17 L1206.62 111.08 L1207.88 110.19 L1209.14 109.41 L1210.40 108.60 L1211.66 109.65 L1212.91 109.89 L1214.17 110.40 L1215.43 109.54 L1216.69 108.22 L1217.95 106.81 L1219.21 106.42 L1220.46 106.38 L1221.72 105.90 L1222.98 105.45 L1224.24 105.51 L1225.50 104.94 L1226.76 104.08 L1228.01 104.58 L1229.27 102.52 L1230.53 102.43 L1231.79 103.07 L1233.05 103.06 L1234.31 103.59 L1235.56 103.35 L1236.82 103.07 L1238.08 102.69 L1239.34 102.12 L1240.60 102.39 L1241.86 102.00 L1243.11 99.25 L1244.37 98.40 L1245.63 97.27 L1246.89 96.94 L1248.15 97.77 L1249.41 99.76 L1250.66 99.89 L1251.92 99.73 L1253.18 100.43 L1254.44 99.75 L1255.70 99.21 L1256.96 98.45 L1258.22 97.38 L1259.47 95.80 L1260.73 96.21 L1261.99 96.59 L1263.25 97.29 L1264.51 97.60 L1265.77 96.45 L1267.02 95.57 L1268.28 94.00 L1269.54 94.14 L1270.80 94.48 L1272.06 94.49 L1273.32 95.18 L1274.57 93.28 L1275.83 92.29 L1277.09 91.98 L1278.35 91.43 L1279.61 92.13 L1280.87 93.04 L1282.12 92.11 L1283.38 92.09 L1284.64 91.96 L1285.90 91.44 L1287.16 91.62 L1288.42 91.35 L1289.67 91.68 L1290.93 91.36 L1292.19 91.17 L1293.45 90.33 L1294.71 89.18 L1295.97 87.58 L1297.22 86.51 L1298.48 86.20 L1299.74 85.56 L1301.00 86.44 L1302.26 85.81 L1303.52 85.11 L1304.77 85.91 L1306.03 84.87 L1307.29 84.91 L1308.55 86.32 L1309.81 85.72 L1311.07 86.08 L1312.32 87.24 L1313.58 86.10 L1314.84 85.93 L1316.10 85.13 L1317.36 83.68 L1318.62 81.47 L1319.87 80.90 L1321.13 80.28 L1322.39 80.12 L1323.65 81.07 L1324.91 81.20 L1326.17 82.52 L1327.42 82.69 L1328.68 82.16 L1329.94 80.45 L1331.20 78.85 L1332.46 77.92 L1333.72 78.48 L1334.97 78.23 L1336.23 77.57 L1337.49 77.84 L1338.75 77.15 L1340.01 78.21 L1341.27 77.87 L1342.52 77.11 L1343.78 76.87 L1345.04 75.87 L1346.30 76.14 L1347.56 76.30 L1348.82 76.63 L1350.07 77.25 L1351.33 78.13 L1352.59 77.40 L1353.85 75.32 L1355.11 75.28 L1356.37 74.03 L1357.62 73.79 L1358.88 75.21 L1360.14 73.95 L1361.40 74.33 L1362.66 73.66 L1363.92 73.19 L1365.17 72.33 L1365.18 73.33 L1365.18 74.32 L1365.19 75.30 L1365.21 76.28 L1365.23 77.25 L1365.25 78.21 L1365.28 79.17 L1365.31 80.12 L1365.35 81.05 L1365.39 81.99 L1365.43 82.91 L1365.48 83.82 L1365.54 84.73 L1365.59 85.63 L1365.66 86.52 L1365.72 87.39 L1365.79 88.26 L1365.87 89.12 L1365.95 89.97 L1366.03 90.80 L1366.12 91.62 L1366.21 92.43 L1366.30 93.23 L1366.40 94.02 L1366.51 94.79 L1366.62 95.56 L1366.73 96.32 L1366.85 97.07 L1366.97 97.82 L1367.10 98.57 L1367.23 99.31 L1367.36 100.05 L1367.50 100.79 L1367.64 101.54 L1367.79 102.28 L1367.94 103.02 L1368.10 103.77 L1368.26 104.53 L1368.42 105.29 L1368.59 106.06 L1368.76 106.84 L1368.94 107.62 L1369.12 108.42 L1369.31 109.23 L1369.50 110.06 L1369.69 110.89 L1369.89 111.74 L1370.09 112.59 L1370.30 113.46 L1370.51 114.32 L1370.73 115.20 L1370.95 116.07 L1371.17 116.95 L1371.40 117.82 L1371.63 118.70 L1371.87 119.57 L1372.11 120.44 L1372.36 121.30 L1372.61 122.16 L1372.86 123.00 L1373.12 123.84 L1373.38 124.66 L1373.65 125.47 L1373.92 126.27 L1374.20 127.05 L1374.48 127.81 L1374.76 128.55 L1375.05 129.27 L1375.34 129.98 L1375.64 130.68 L1375.94 131.37 L1376.24 132.05 L1376.55 132.73 L1376.87 133.40 L1377.18 134.06 L1377.51 134.71 L1377.83 135.36 L1378.16 136.00 L1378.50 136.64 L1378.84 137.27 L1379.18 137.89 L1379.53 138.51 L1379.88 139.12 L1380.24 139.72 L1380.60 140.32 L1380.97 140.92 L1381.34 141.50 L1381.71 142.09 L1382.09 142.67 L1382.47 143.24 L1382.86 143.81 L1383.25 144.37 L1383.64 144.93 L1384.04 145.49 L1384.44 146.04 L1384.85 146.59 L1385.26 147.13 L1385.68 147.67 L1386.10 148.21 L1386.53 148.74 L1386.95 149.27 L1387.39 149.79 L1387.83 150.31 L1388.27 150.82 L1388.71 151.32 L1389.16 151.83 L1389.62 152.33 L1390.08 152.82 L1390.54 153.31 L1391.01 153.80 L1391.48 154.29 L1391.96 154.77 L1392.44 155.24 L1392.92 155.72 L1393.41 156.19 L1393.90 156.66 L1394.40 157.12 L1394.90 157.59 L1395.41 158.05 L1395.92 158.51 L1396.43 158.96 L1396.95 159.42 L1397.48 159.87 L1398.00 160.32 L1398.54 160.77 L1399.07 161.22 L1399.61 161.66 L1400.16 162.11 L1400.70 162.55 L1401.26 163.00 L1401.81 163.44 L1402.38 163.88 L1402.94 164.32 L1403.51 164.76 L1404.09 165.20 L1404.66 165.64 L1405.25 166.07 L1405.83 166.51 L1406.43 166.94 L1407.02 167.37 L1407.62 167.80 L1408.23 168.22 L1408.83 168.65 L1409.45 169.07 L1410.06 169.48 L1410.69 169.90 L1411.31 170.31 L1411.94 170.72 L1412.58 171.12 L1413.21 171.52 L1413.86 171.92 L1414.50 172.31 L1415.15 172.70 L1415.81 173.08 L1416.47 173.46 L1417.13 173.84 L1417.80 174.21 L1418.47 174.58 L1419.15 174.94 L1419.83 175.29 L1420.52 175.63 L1421.21 175.97 L1421.90 176.30 L1422.60 176.62 L1423.30 176.94 L1424.01 177.25 L1424.72 177.56 L1425.43 177.86 L1426.15 178.16 L1426.88 178.46 L1427.61 178.76 L1428.34 179.05 L1429.07 179.35 L1429.82 179.64 L1430.56 179.94 L1431.31 180.23 L1432.06 180.53 L1432.82 180.83 L1433.58 181.14 L1434.35 181.45 L1435.12 181.76 L1435.90 182.08 L1436.68 182.41 L1437.46 182.74 L1438.25 183.09 L1439.04 183.43 L1439.84 183.79 L1440.64 184.16 L1441.44 184.54 L1442.25 184.93 L1443.06 185.33 L1443.88 185.74 L1444.70 186.16 L1445.53 186.59 L1446.36 187.02 L1447.19 187.45 L1448.03 187.90 L1448.88 188.34 L1449.72 188.79" fill="none" stroke="#d62728" stroke-width="2.5" stroke-dasharray="9.25 4" stroke-linejoin="round"/>
<rect x="815.60" y="24.30" width="634.12" height="381.20" fill="none" stroke="#646464" stroke-width="1"/>
<line x1="811.10" y1="405.50" x2="815.60" y2="405.50" stroke="#646464" stroke-width="1"/>
<line x1="811.10" y1="357.85" x2="815.60" y2="357.85" stroke="#646464" stroke-width="1"/>
<line x1="811.10" y1="310.20" x2="815.60" y2="310.20" stroke="#646464" stroke-width="1"/>
<line x1="811.10" y1="262.55" x2="815.60" y2="262.55" stroke="#646464" stroke-width="1"/>
<line x1="811.10" y1="214.90" x2="815.60" y2="214.90" stroke="#646464" stroke-width="1"/>
<line x1="811.10" y1="167.25" x2="815.60" y2="167.25" stroke="#646464" stroke-width="1"/>
<line x1="811.10" y1="119.60" x2="815.60" y2="119.60" stroke="#646464" stroke-width="1"/>
<line x1="811.10" y1="71.95" x2="815.60" y2="71.95" stroke="#646464" stroke-width="1"/>
<line x1="811.10" y1="24.30" x2="815.60" y2="24.30" stroke="#646464" stroke-width="1"/>
<line x1="815.60" y1="405.50" x2="815.60" y2="410.00" stroke="#646464" stroke-width="1"/>
<line x1="900.15" y1="405.50" x2="900.15" y2="410.00" stroke="#646464" stroke-width="1"/>
<line x1="984.70" y1="405.50" x2="984.70" y2="410.00" stroke="#646464" stroke-width="1"/>
<line x1="1069.25" y1="405.50" x2="1069.25" y2="410.00" stroke="#646464" stroke-width="1"/>
<line x1="1153.80" y1="405.50" x2="1153.80" y2="410.00" stroke="#646464" stroke-width="1"/>
<line x1="1238.35" y1="405.50" x2="1238.35" y2="410.00" stroke="#646464" stroke-width="1"/>
<line x1="1322.90" y1="405.50" x2="1322.90" y2="410.00" stroke="#646464" stroke-width="1"/>
<line x1="1407.45" y1="405.50" x2="1407.45" y2="410.00" stroke="#646464" stroke-width="1"/>
<text x="29.40" y="412.80" font-size="19">0.25</text>
<text x="29.40" y="365.15" font-size="19">0.50</text>
<text x="29.40" y="317.50" font-size="19">0.75</text>
<text x="29.40" y="269.85" font-size="19">1.00</text>
<text x="29.40" y="222.20" font-size="19">1.25</text>
<text x="29.40" y="174.55" font-size="19">1.50</text>
<text x="29.40" y="126.90" font-size="19">1.75</text>
<text x="29.40" y="79.25" font-size="19">2.00</text>
<text x="29.40" y="31.60" font-size="19">2.25</text>
<text x="74.05" y="427.80" font-size="19">3</text>
<text x="158.85" y="427.80" font-size="19">2</text>
<text x="243.40" y="427.80" font-size="19">1</text>
<text x="320.50" y="427.80" font-size="19">0</text>
<text x="404.68" y="427.80" font-size="19">1</text>
<text x="489.73" y="427.80" font-size="19">2</text>
<text x="574.02" y="427.80" font-size="19">3</text>
<text x="658.70" y="427.80" font-size="19">4</text>
<text x="773.50" y="412.80" font-size="19">0.25</text>
<text x="773.50" y="365.15" font-size="19">0.50</text>
<text x="773.50" y="317.50" font-size="19">0.75</text>
<text x="773.50" y="269.85" font-size="19">1.00</text>
<text x="773.50" y="222.20" font-size="19">1.25</text>
<text x="773.50" y="174.55" font-size="19">1.50</text>
<text x="773.50" y="126.90" font-size="19">1.75</text>
<text x="773.50" y="79.25" font-size="19">2.00</text>
<text x="773.50" y="31.60" font-size="19">2.25</text>
<text x="818.15" y="427.80" font-size="19">3</text>
<text x="902.95" y="427.80" font-size="19">2</text>
<text x="987.50" y="427.80" font-size="19">1</text>
<text x="1064.60" y="427.80" font-size="19">0</text>
<text x="1148.77" y="427.80" font-size="19">1</text>
<text x="1233.82" y="427.80" font-size="19">2</text>
<text x="1318.12" y="427.80" font-size="19">3</text>
<text x="1402.80" y="427.80" font-size="19">4</text>
<text transform="matrix(0.6400 0 0 0.6400 59.52 430.88)" font-size="40">−</text>
<text transform="matrix(0.6400 0 0 0.6400 144.07 430.88)" font-size="40">−</text>
<text transform="matrix(0.6400 0 0 0.6400 228.62 430.88)" font-size="40">−</text>
<text transform="matrix(0.6400 0 0 0.6400 803.62 430.88)" font-size="40">−</text>
<text transform="matrix(0.6400 0 0 0.6400 888.17 430.88)" font-size="40">−</text>
<text transform="matrix(0.6400 0 0 0.6400 972.72 430.88)" font-size="40">−</text>
<text transform="matrix(0.7610 0 0 0.7174 357.77 17.34)" font-size="40" font-style="italic">t</text>
<text transform="matrix(0.8160 0 0 0.7526 375.07 20.92)" font-size="40">&lt;</text>
<text transform="matrix(0.7902 0 0 0.7087 399.42 17.35)" font-size="40" font-style="italic">t</text>
<text transform="matrix(0.4500 0 0 0.4949 409.20 13.29)" font-size="40">*</text>
<text transform="matrix(0.7610 0 0 0.7087 1101.57 17.35)" font-size="40" font-style="italic">t</text>
<text transform="matrix(0.4500 0 0 0.4610 1111.00 12.90)" font-size="40">*</text>
<text transform="matrix(0.8160 0 0 0.7526 1127.97 20.92)" font-size="40">&lt;</text>
<text transform="matrix(0.8000 0 0 0.7087 1152.50 17.35)" font-size="40" font-style="italic">t</text>
<text transform="matrix(0.6571 0 0 0.6705 151.11 53.60)" font-size="40">I</text>
<text transform="matrix(0.6580 0 0 0.6579 246.91 53.27)" font-size="40">IIa</text>
<text transform="matrix(0.6514 0 0 0.6442 436.82 53.28)" font-size="40">IIb</text>
<text transform="matrix(0.6568 0 0 0.6705 648.91 53.60)" font-size="40">III</text>
<text transform="matrix(0.7143 0 0 0.6705 894.63 53.60)" font-size="40">I</text>
<text transform="matrix(0.6698 0 0 0.6579 990.70 53.27)" font-size="40">IIa</text>
<text transform="matrix(0.6606 0 0 0.6442 1180.51 53.28)" font-size="40">IIb</text>
<text transform="matrix(0.6730 0 0 0.6705 1392.69 53.60)" font-size="40">III</text>
<text transform="matrix(0.8208 0 0 0.6566 877.52 82.30)" font-size="40" font-style="italic">i</text>
<text transform="matrix(0.8000 0 0 0.6400 893.75 83.98)" font-size="40">=</text>
<text transform="matrix(0.5895 0 0 0.6377 918.04 82.20)" font-size="40">1</text>
<text transform="matrix(0.8208 0 0 0.6566 986.12 82.30)" font-size="40" font-style="italic">i</text>
<text transform="matrix(0.8000 0 0 0.6400 1002.35 83.98)" font-size="40">=</text>
<text transform="matrix(0.6424 0 0 0.6259 1027.22 81.89)" font-size="40">3</text>
<text transform="matrix(0.8208 0 0 0.6566 1179.52 82.30)" font-size="40" font-style="italic">i</text>
<text transform="matrix(0.8000 0 0 0.6400 1195.75 83.98)" font-size="40">=</text>
<text transform="matrix(0.6424 0 0 0.6259 1220.42 81.89)" font-size="40">3</text>
<text transform="matrix(0.8208 0 0 0.6566 1374.02 82.30)" font-size="40" font-style="italic">i</text>
<text transform="matrix(0.8000 0 0 0.6400 1390.25 83.98)" font-size="40">=</text>
<text transform="matrix(0.5895 0 0 0.6377 1414.74 82.20)" font-size="40">1</text>
<text transform="matrix(0.6526 0 0 0.6055 371.05 454.45)" font-size="40" font-style="italic">ρ</text>
<text transform="matrix(0.8545 0 0 0.9333 383.80 460.73)" font-size="40">/</text>
<text transform="matrix(0.6240 0 0 0.6301 394.82 454.58)" font-size="40" font-style="italic">d</text>
<text transform="matrix(0.6526 0 0 0.6055 1115.15 454.45)" font-size="40" font-style="italic">ρ</text>
<text transform="matrix(0.8545 0 0 0.9333 1127.90 460.73)" font-size="40">/</text>
<text transform="matrix(0.6240 0 0 0.6301 1138.92 454.58)" font-size="40" font-style="italic">d</text>
<g transform="translate(18.90 239.10) rotate(-90)">
<text transform="matrix(0.5939 0 0 0.6342 -0.49 0.00)" font-size="40" font-style="italic">l</text>
<text transform="matrix(0.4555 0 0 0.4566 6.01 3.90)" font-size="40">12</text>
<text transform="matrix(0.8636 0 0 0.9148 25.40 5.34)" font-size="40">/</text>
<text transform="matrix(0.6293 0 0 0.6442 36.31 -0.02)" font-size="40" font-style="italic">d</text>
</g>
<g transform="translate(763.10 238.50) rotate(-90)">
<text transform="matrix(0.6667 0 0 0.6450 -0.53 0.00)" font-size="40" font-style="italic">l</text>
<text transform="matrix(0.5519 0 0 0.4415 6.37 3.60)" font-size="40" font-style="italic">i</text>
<text transform="matrix(0.4438 0 0 0.4679 12.72 3.60)" font-size="40">2</text>
<text transform="matrix(0.8273 0 0 0.8926 23.90 4.45)" font-size="40">/</text>
<text transform="matrix(0.6453 0 0 0.6442 34.09 -0.32)" font-size="40" font-style="italic">d</text>
</g>
<defs><linearGradient id="lg542" gradientUnits="objectBoundingBox" x1="0" y1="0" x2="1" y2="0"><stop offset="0.5103" stop-color="#fdf9f5"/><stop offset="0.5133" stop-color="#f2f6fa"/></linearGradient></defs>
<rect x="542.90" y="320.40" width="153.20" height="75.10" rx="3.5" ry="3.5" fill="url(#lg542)" stroke="#d0d0d0" stroke-width="1.1"/>
<line x1="550.00" y1="335.4" x2="586.80" y2="335.4" stroke="#3343a3" stroke-width="2.5" stroke-dasharray="9.25 4"/>
<line x1="550.00" y1="370.3" x2="586.80" y2="370.3" stroke="#d62728" stroke-width="2.5" stroke-dasharray="9.25 4"/>
<text transform="matrix(0.4885 0 0 0.4453 602.63 341.30)" font-size="40" stroke="#000" stroke-width="0.643">min</text>
<text transform="matrix(0.4683 0 0 0.5407 634.38 342.40)" font-size="40" stroke="#000" stroke-width="0.595">(</text>
<text transform="matrix(0.4606 0 0 0.4505 640.18 341.30)" font-size="40" font-style="italic" stroke="#000" stroke-width="0.659">l</text>
<text transform="matrix(0.3504 0 0 0.3585 645.57 344.80)" font-size="40" stroke="#000" stroke-width="0.846">12</text>
<text transform="matrix(0.4488 0 0 0.5379 659.54 342.33)" font-size="40" stroke="#000" stroke-width="0.608">)</text>
<text transform="matrix(0.6909 0 0 0.6926 667.40 346.05)" font-size="40" stroke="#000" stroke-width="0.434">/</text>
<text transform="matrix(0.4907 0 0 0.4496 676.09 341.28)" font-size="40" font-style="italic" stroke="#000" stroke-width="0.638">d</text>
<text transform="matrix(0.4488 0 0 0.3652 604.41 353.22)" font-size="40" font-style="italic" stroke="#000" stroke-width="0.737">t</text>
<text transform="matrix(0.4160 0 0 0.4105 610.47 355.44)" font-size="40" stroke="#000" stroke-width="0.726">&lt;</text>
<text transform="matrix(0.4565 0 0 0.3652 619.66 353.22)" font-size="40" font-style="italic" stroke="#000" stroke-width="0.730">t</text>
<text transform="matrix(0.2687 0 0 0.2373 625.06 351.83)" font-size="40" stroke="#000" stroke-width="1.186">*</text>
<text transform="matrix(0.4989 0 0 0.4256 602.63 376.59)" font-size="40" stroke="#000" stroke-width="0.649">max</text>
<text transform="matrix(0.4683 0 0 0.5407 637.68 377.90)" font-size="40" stroke="#000" stroke-width="0.595">(</text>
<text transform="matrix(0.4606 0 0 0.4505 643.48 376.80)" font-size="40" font-style="italic" stroke="#000" stroke-width="0.659">l</text>
<text transform="matrix(0.3504 0 0 0.3585 648.87 380.30)" font-size="40" stroke="#000" stroke-width="0.846">12</text>
<text transform="matrix(0.4488 0 0 0.5379 662.84 377.83)" font-size="40" stroke="#000" stroke-width="0.608">)</text>
<text transform="matrix(0.6909 0 0 0.6926 670.70 381.55)" font-size="40" stroke="#000" stroke-width="0.434">/</text>
<text transform="matrix(0.4907 0 0 0.4496 679.39 376.78)" font-size="40" font-style="italic" stroke="#000" stroke-width="0.638">d</text>
<text transform="matrix(0.4488 0 0 0.3652 606.51 388.72)" font-size="40" font-style="italic" stroke="#000" stroke-width="0.737">t</text>
<text transform="matrix(0.4160 0 0 0.4105 612.57 390.94)" font-size="40" stroke="#000" stroke-width="0.726">&lt;</text>
<text transform="matrix(0.4565 0 0 0.3652 621.76 388.72)" font-size="40" font-style="italic" stroke="#000" stroke-width="0.730">t</text>
<text transform="matrix(0.2687 0 0 0.2373 627.16 387.33)" font-size="40" stroke="#000" stroke-width="1.186">*</text>
<defs><linearGradient id="lg1289" gradientUnits="objectBoundingBox" x1="0" y1="0" x2="1" y2="0"><stop offset="0.5035" stop-color="#fdf9f5"/><stop offset="0.5065" stop-color="#f2f6fa"/></linearGradient></defs>
<rect x="1289.00" y="320.40" width="151.30" height="75.10" rx="3.5" ry="3.5" fill="url(#lg1289)" stroke="#d0d0d0" stroke-width="1.1"/>
<line x1="1296.10" y1="335.4" x2="1332.90" y2="335.4" stroke="#3343a3" stroke-width="2.5" stroke-dasharray="9.25 4"/>
<line x1="1296.10" y1="370.3" x2="1332.90" y2="370.3" stroke="#d62728" stroke-width="2.5" stroke-dasharray="9.25 4"/>
<text transform="matrix(0.4885 0 0 0.4604 1348.73 341.60)" font-size="40" stroke="#000" stroke-width="0.632">min</text>
<text transform="matrix(0.4488 0 0 0.5297 1380.31 342.30)" font-size="40" stroke="#000" stroke-width="0.613">(</text>
<text transform="matrix(0.5212 0 0 0.4649 1385.76 341.60)" font-size="40" font-style="italic" stroke="#000" stroke-width="0.608">l</text>
<text transform="matrix(0.3632 0 0 0.2906 1391.33 344.50)" font-size="40" font-style="italic" stroke="#000" stroke-width="0.918">i</text>
<text transform="matrix(0.3113 0 0 0.2491 1395.91 344.50)" font-size="40" stroke="#000" stroke-width="1.071">2</text>
<text transform="matrix(0.4683 0 0 0.5297 1403.71 342.30)" font-size="40" stroke="#000" stroke-width="0.601">)</text>
<text transform="matrix(0.6636 0 0 0.6926 1411.10 346.35)" font-size="40" stroke="#000" stroke-width="0.442">/</text>
<text transform="matrix(0.4800 0 0 0.4637 1419.60 341.57)" font-size="40" font-style="italic" stroke="#000" stroke-width="0.636">d</text>
<text transform="matrix(0.4000 0 0 0.3522 1350.90 352.82)" font-size="40" font-style="italic" stroke="#000" stroke-width="0.798">t</text>
<text transform="matrix(0.2500 0 0 0.2508 1356.30 352.18)" font-size="40" stroke="#000" stroke-width="1.198">*</text>
<text transform="matrix(0.4320 0 0 0.3474 1362.24 354.30)" font-size="40" stroke="#000" stroke-width="0.770">&lt;</text>
<text transform="matrix(0.4293 0 0 0.3522 1371.55 352.82)" font-size="40" font-style="italic" stroke="#000" stroke-width="0.768">t</text>
<text transform="matrix(0.4827 0 0 0.4410 1348.74 376.88)" font-size="40" stroke="#000" stroke-width="0.650">max</text>
<text transform="matrix(0.4488 0 0 0.5297 1383.61 377.80)" font-size="40" stroke="#000" stroke-width="0.613">(</text>
<text transform="matrix(0.5212 0 0 0.4649 1389.06 377.10)" font-size="40" font-style="italic" stroke="#000" stroke-width="0.608">l</text>
<text transform="matrix(0.3632 0 0 0.2906 1394.63 380.00)" font-size="40" font-style="italic" stroke="#000" stroke-width="0.918">i</text>
<text transform="matrix(0.3113 0 0 0.2491 1399.21 380.00)" font-size="40" stroke="#000" stroke-width="1.071">2</text>
<text transform="matrix(0.4683 0 0 0.5297 1407.01 377.80)" font-size="40" stroke="#000" stroke-width="0.601">)</text>
<text transform="matrix(0.6636 0 0 0.6926 1414.40 381.85)" font-size="40" stroke="#000" stroke-width="0.442">/</text>
<text transform="matrix(0.4800 0 0 0.4637 1422.90 377.07)" font-size="40" font-style="italic" stroke="#000" stroke-width="0.636">d</text>
<text transform="matrix(0.4000 0 0 0.3522 1352.90 388.32)" font-size="40" font-style="italic" stroke="#000" stroke-width="0.798">t</text>
<text transform="matrix(0.2500 0 0 0.2508 1358.30 387.68)" font-size="40" stroke="#000" stroke-width="1.198">*</text>
<text transform="matrix(0.4320 0 0 0.3474 1364.24 389.80)" font-size="40" stroke="#000" stroke-width="0.770">&lt;</text>
<text transform="matrix(0.4293 0 0 0.3522 1373.55 388.32)" font-size="40" font-style="italic" stroke="#000" stroke-width="0.768">t</text>
</svg>
</body></html>
